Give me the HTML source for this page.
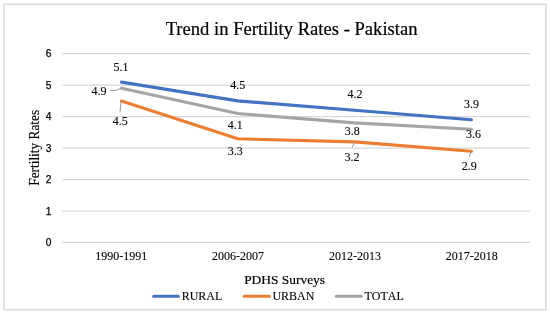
<!DOCTYPE html>
<html><head><meta charset="utf-8"><title>Trend in Fertility Rates - Pakistan</title>
<style>
html,body{margin:0;padding:0;background:#fff;}
body{width:550px;height:314px;overflow:hidden;}
svg{display:block;}
text{font-family:"Liberation Serif","Times New Roman",serif;fill:#000;font-kerning:none;}
.sans text{font-family:"Liberation Sans",Arial,sans-serif;}
</style></head><body>
<svg width="550" height="314" viewBox="0 0 550 314">
<rect x="0" y="0" width="550" height="314" fill="#fff"/>
<rect x="4.1" y="4.3" width="541.7" height="305.4" fill="#fff" stroke="#dcdcdc" stroke-width="1.6"/>
<g stroke="#d8d8d8" stroke-width="1.25">
<line x1="62.7" x2="529.8" y1="53.7" y2="53.7"/>
<line x1="62.7" x2="529.8" y1="85.1" y2="85.1"/>
<line x1="62.7" x2="529.8" y1="116.5" y2="116.5"/>
<line x1="62.7" x2="529.8" y1="148" y2="148"/>
<line x1="62.7" x2="529.8" y1="179.5" y2="179.5"/>
<line x1="62.7" x2="529.8" y1="211" y2="211"/>
<line x1="62.7" x2="529.8" y1="242.4" y2="242.4"/>
</g>
<text id="title" stroke="#000" stroke-width="0.2" x="291.6" y="34.8" font-size="18.6" style="font-kerning:normal" text-anchor="middle">Trend in Fertility Rates - Pakistan</text>
<g class="sans" font-size="10.2" text-anchor="middle" stroke="#000" stroke-width="0.25">
<text x="48.5" y="57.4">6</text>
<text x="48.5" y="88.9">5</text>
<text x="48.5" y="120.3">4</text>
<text x="48.5" y="151.8">3</text>
<text x="48.5" y="183.3">2</text>
<text x="48.5" y="214.8">1</text>
<text x="48.5" y="246.2">0</text>
</g>
<text id="ylab" font-size="13.35" text-anchor="middle" transform="translate(39.3,147.8) rotate(-90) scale(1,1.03)" stroke="#000" stroke-width="0.15">Fertility Rates</text>
<g font-size="12" text-anchor="middle" stroke="#000" stroke-width="0.1">
<text x="121.3" y="260.3">1990-1991</text>
<text x="238.1" y="260.3">2006-2007</text>
<text x="354.9" y="260.3">2012-2013</text>
<text x="471.7" y="260.3">2017-2018</text>
</g>
<text id="xlab" stroke="#000" stroke-width="0.2" x="284.6" y="283.6" font-size="13.43" text-anchor="middle">PDHS Surveys</text>
<g fill="none" stroke-width="3.15" stroke-linecap="round" stroke-linejoin="round">
<polyline stroke="#4472c4" points="121.5,82.1 237.8,100.9 354.6,110.3 471.4,119.8"/>
<polyline stroke="#ed7d31" points="121.5,101 237.8,138.8 354.6,141.9 471.4,151.3"/>
<polyline stroke="#a5a5a5" points="121.5,88.3 237.8,113.5 354.6,122.9 471.4,129.2"/>
</g>
<g fill="none" stroke="#969696" stroke-width="1">
<polyline points="110.4,90.4 116.2,90.4 120.8,88.2"/>
<line x1="121.1" y1="100.6" x2="120" y2="112.4"/>
<line x1="354.8" y1="142" x2="352.2" y2="147.3"/>
<line x1="471.2" y1="151.4" x2="469.3" y2="156.8"/>
</g>
<g font-size="12" text-anchor="middle" stroke="#000" stroke-width="0.1">
<text x="121" y="70.7">5.1</text>
<text x="237.7" y="88.7">4.5</text>
<text x="355" y="98.2">4.2</text>
<text x="471.6" y="107.7">3.9</text>
<text x="120.3" y="124.7">4.5</text>
<text x="235.3" y="155.1">3.3</text>
<text x="352" y="161">3.2</text>
<text x="469.2" y="170.3">2.9</text>
<text x="99" y="94.7">4.9</text>
<text x="235.3" y="128.5">4.1</text>
<text x="352.2" y="134.9">3.8</text>
<text x="473.6" y="138.2">3.6</text>
</g>
<g stroke-width="3.1" stroke-linecap="round">
<line x1="153.7" x2="178.3" y1="296.3" y2="296.3" stroke="#4472c4"/>
<line x1="244.3" x2="269.3" y1="296.3" y2="296.3" stroke="#ed7d31"/>
<line x1="336.3" x2="361.3" y1="296.3" y2="296.3" stroke="#a5a5a5"/>
</g>
<g font-size="12" stroke="#000" stroke-width="0.1">
<text x="181.7" y="300.1">RURAL</text>
<text x="272.4" y="300.1">URBAN</text>
<text x="364.5" y="300.1">TOTAL</text>
</g>
</svg>
</body></html>
